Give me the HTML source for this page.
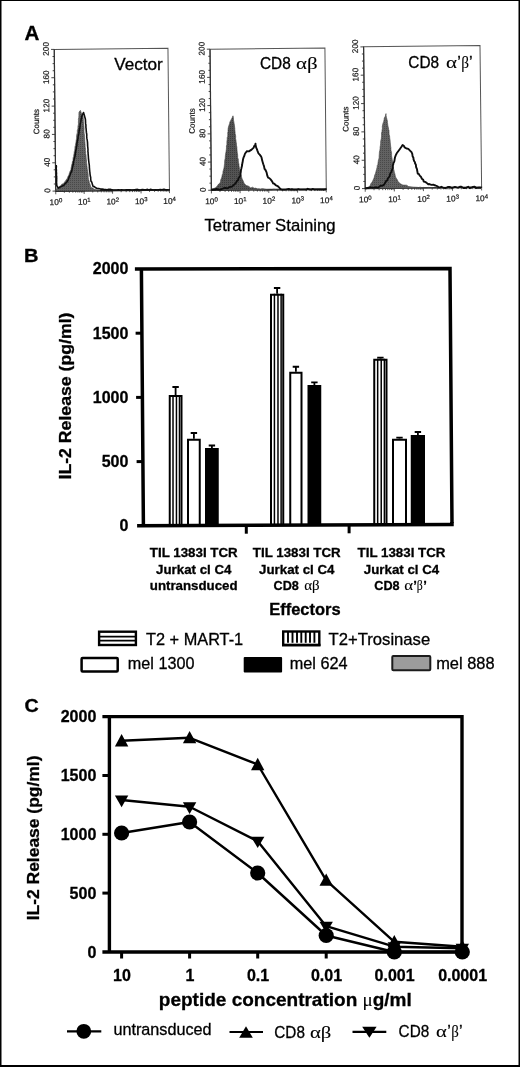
<!DOCTYPE html>
<html lang="en"><head><meta charset="utf-8"><title>Figure</title>
<style>
html,body{margin:0;padding:0;background:#fff;}
body{width:520px;height:1067px;overflow:hidden;position:relative;}
svg{position:absolute;left:0;top:0;display:block;}
text{font-family:"Liberation Sans",Arial,Helvetica,sans-serif;fill:#000;stroke:#000;stroke-width:0.3;}
.b{font-weight:bold;}
.sym{font-family:"Liberation Serif","DejaVu Serif",serif;stroke-width:0.1;}
.sm{fill:#1a1a1a;stroke:#1a1a1a;stroke-width:0.22;}
</style></head><body>
<svg width="520" height="1067" viewBox="0 0 520 1067">
<defs>
<filter id="bl" x="-5%" y="-5%" width="110%" height="110%"><feGaussianBlur stdDeviation="0.45"/></filter>
<pattern id="dots" width="2" height="2" patternUnits="userSpaceOnUse"><rect width="2" height="2" fill="#626262"/><rect width="1" height="1" fill="#4a4a4a"/></pattern>
<pattern id="dots2" width="2" height="2" patternUnits="userSpaceOnUse"><rect width="2" height="2" fill="#525252"/><rect width="1" height="1" fill="#3a3a3a"/></pattern>
</defs>
<rect x="0" y="0" width="520" height="1067" fill="#fff"/>

<text class="b" x="24.6" y="40.2" font-size="20.6">A</text>
<g filter="url(#bl)">
<g transform="rotate(-0.6 111.8 119.7)">
<path d="M55,190.5 V48.8 H168.7 V190.5" fill="none" stroke="#555" stroke-width="1"/>
<line x1="55" y1="48.8" x2="55" y2="190.5" stroke="#333" stroke-width="1.2"/>
<line x1="51.8" y1="190.5" x2="55" y2="190.5" stroke="#333" stroke-width="0.9"/>
<line x1="53.2" y1="183.4" x2="55" y2="183.4" stroke="#333" stroke-width="0.9"/>
<line x1="53.2" y1="176.3" x2="55" y2="176.3" stroke="#333" stroke-width="0.9"/>
<line x1="53.2" y1="169.2" x2="55" y2="169.2" stroke="#333" stroke-width="0.9"/>
<line x1="51.8" y1="162.2" x2="55" y2="162.2" stroke="#333" stroke-width="0.9"/>
<line x1="53.2" y1="155.1" x2="55" y2="155.1" stroke="#333" stroke-width="0.9"/>
<line x1="53.2" y1="148.0" x2="55" y2="148.0" stroke="#333" stroke-width="0.9"/>
<line x1="53.2" y1="140.9" x2="55" y2="140.9" stroke="#333" stroke-width="0.9"/>
<line x1="51.8" y1="133.8" x2="55" y2="133.8" stroke="#333" stroke-width="0.9"/>
<line x1="53.2" y1="126.7" x2="55" y2="126.7" stroke="#333" stroke-width="0.9"/>
<line x1="53.2" y1="119.7" x2="55" y2="119.7" stroke="#333" stroke-width="0.9"/>
<line x1="53.2" y1="112.6" x2="55" y2="112.6" stroke="#333" stroke-width="0.9"/>
<line x1="51.8" y1="105.5" x2="55" y2="105.5" stroke="#333" stroke-width="0.9"/>
<line x1="53.2" y1="98.4" x2="55" y2="98.4" stroke="#333" stroke-width="0.9"/>
<line x1="53.2" y1="91.3" x2="55" y2="91.3" stroke="#333" stroke-width="0.9"/>
<line x1="53.2" y1="84.2" x2="55" y2="84.2" stroke="#333" stroke-width="0.9"/>
<line x1="51.8" y1="77.1" x2="55" y2="77.1" stroke="#333" stroke-width="0.9"/>
<line x1="53.2" y1="70.1" x2="55" y2="70.1" stroke="#333" stroke-width="0.9"/>
<line x1="53.2" y1="63.0" x2="55" y2="63.0" stroke="#333" stroke-width="0.9"/>
<line x1="53.2" y1="55.9" x2="55" y2="55.9" stroke="#333" stroke-width="0.9"/>
<line x1="51.8" y1="48.8" x2="55" y2="48.8" stroke="#333" stroke-width="0.9"/>
<line x1="55.0" y1="190.5" x2="55.0" y2="193.7" stroke="#333" stroke-width="0.8"/>
<line x1="63.6" y1="190.5" x2="63.6" y2="192.3" stroke="#333" stroke-width="0.8"/>
<line x1="68.6" y1="190.5" x2="68.6" y2="192.3" stroke="#333" stroke-width="0.8"/>
<line x1="72.1" y1="190.5" x2="72.1" y2="192.3" stroke="#333" stroke-width="0.8"/>
<line x1="74.9" y1="190.5" x2="74.9" y2="192.3" stroke="#333" stroke-width="0.8"/>
<line x1="77.1" y1="190.5" x2="77.1" y2="192.3" stroke="#333" stroke-width="0.8"/>
<line x1="79.0" y1="190.5" x2="79.0" y2="192.3" stroke="#333" stroke-width="0.8"/>
<line x1="80.7" y1="190.5" x2="80.7" y2="192.3" stroke="#333" stroke-width="0.8"/>
<line x1="82.1" y1="190.5" x2="82.1" y2="192.3" stroke="#333" stroke-width="0.8"/>
<line x1="83.4" y1="190.5" x2="83.4" y2="193.7" stroke="#333" stroke-width="0.8"/>
<line x1="92.0" y1="190.5" x2="92.0" y2="192.3" stroke="#333" stroke-width="0.8"/>
<line x1="97.0" y1="190.5" x2="97.0" y2="192.3" stroke="#333" stroke-width="0.8"/>
<line x1="100.5" y1="190.5" x2="100.5" y2="192.3" stroke="#333" stroke-width="0.8"/>
<line x1="103.3" y1="190.5" x2="103.3" y2="192.3" stroke="#333" stroke-width="0.8"/>
<line x1="105.5" y1="190.5" x2="105.5" y2="192.3" stroke="#333" stroke-width="0.8"/>
<line x1="107.4" y1="190.5" x2="107.4" y2="192.3" stroke="#333" stroke-width="0.8"/>
<line x1="109.1" y1="190.5" x2="109.1" y2="192.3" stroke="#333" stroke-width="0.8"/>
<line x1="110.5" y1="190.5" x2="110.5" y2="192.3" stroke="#333" stroke-width="0.8"/>
<line x1="111.8" y1="190.5" x2="111.8" y2="193.7" stroke="#333" stroke-width="0.8"/>
<line x1="120.4" y1="190.5" x2="120.4" y2="192.3" stroke="#333" stroke-width="0.8"/>
<line x1="125.4" y1="190.5" x2="125.4" y2="192.3" stroke="#333" stroke-width="0.8"/>
<line x1="129.0" y1="190.5" x2="129.0" y2="192.3" stroke="#333" stroke-width="0.8"/>
<line x1="131.7" y1="190.5" x2="131.7" y2="192.3" stroke="#333" stroke-width="0.8"/>
<line x1="134.0" y1="190.5" x2="134.0" y2="192.3" stroke="#333" stroke-width="0.8"/>
<line x1="135.9" y1="190.5" x2="135.9" y2="192.3" stroke="#333" stroke-width="0.8"/>
<line x1="137.5" y1="190.5" x2="137.5" y2="192.3" stroke="#333" stroke-width="0.8"/>
<line x1="139.0" y1="190.5" x2="139.0" y2="192.3" stroke="#333" stroke-width="0.8"/>
<line x1="140.3" y1="190.5" x2="140.3" y2="193.7" stroke="#333" stroke-width="0.8"/>
<line x1="148.8" y1="190.5" x2="148.8" y2="192.3" stroke="#333" stroke-width="0.8"/>
<line x1="153.8" y1="190.5" x2="153.8" y2="192.3" stroke="#333" stroke-width="0.8"/>
<line x1="157.4" y1="190.5" x2="157.4" y2="192.3" stroke="#333" stroke-width="0.8"/>
<line x1="160.1" y1="190.5" x2="160.1" y2="192.3" stroke="#333" stroke-width="0.8"/>
<line x1="162.4" y1="190.5" x2="162.4" y2="192.3" stroke="#333" stroke-width="0.8"/>
<line x1="164.3" y1="190.5" x2="164.3" y2="192.3" stroke="#333" stroke-width="0.8"/>
<line x1="165.9" y1="190.5" x2="165.9" y2="192.3" stroke="#333" stroke-width="0.8"/>
<line x1="167.4" y1="190.5" x2="167.4" y2="192.3" stroke="#333" stroke-width="0.8"/>
<line x1="168.7" y1="190.5" x2="168.7" y2="193.7" stroke="#333" stroke-width="0.8"/>
<line x1="54.5" y1="190.5" x2="169.2" y2="190.5" stroke="#1a1a1a" stroke-width="1.6"/>
<text class="sm" transform="translate(49.4,189.9) rotate(-90)" text-anchor="middle" font-size="8.2">0</text>
<text class="sm" transform="translate(49.4,161.6) rotate(-90)" text-anchor="middle" font-size="8.2">40</text>
<text class="sm" transform="translate(49.4,133.2) rotate(-90)" text-anchor="middle" font-size="8.2">80</text>
<text class="sm" transform="translate(49.4,104.9) rotate(-90)" text-anchor="middle" font-size="8.2">120</text>
<text class="sm" transform="translate(49.4,76.5) rotate(-90)" text-anchor="middle" font-size="8.2">160</text>
<text class="sm" transform="translate(49.4,48.2) rotate(-90)" text-anchor="middle" font-size="8.2">200</text>
<text class="sm" transform="translate(39.0,120.9) rotate(-90)" text-anchor="middle" font-size="8">Counts</text>
<text class="sm" x="48.7" y="204.5" font-size="8.4">10<tspan dy="-2.8" font-size="6">0</tspan></text>
<text class="sm" x="77.1" y="204.5" font-size="8.4">10<tspan dy="-2.8" font-size="6">1</tspan></text>
<text class="sm" x="105.5" y="204.5" font-size="8.4">10<tspan dy="-2.8" font-size="6">2</tspan></text>
<text class="sm" x="134.0" y="204.5" font-size="8.4">10<tspan dy="-2.8" font-size="6">3</tspan></text>
<text class="sm" x="162.4" y="204.5" font-size="8.4">10<tspan dy="-2.8" font-size="6">4</tspan></text>
</g>
<polygon points="55.0,191.0 56.6,188.9 57.9,187.8 59.4,186.5 60.9,185.7 61.9,184.1 63.5,183.8 64.3,182.4 65.6,180.7 66.7,179.1 67.3,178.4 68.2,175.9 68.8,175.2 69.5,172.9 70.1,171.1 70.9,169.9 71.1,168.0 71.5,166.3 71.7,164.7 72.2,163.6 72.4,161.7 73.0,160.4 73.1,157.8 73.6,156.7 73.7,155.3 74.1,153.6 74.3,151.5 74.7,150.4 74.9,148.5 75.0,146.4 75.4,145.5 75.7,143.3 76.0,142.2 76.2,140.3 76.5,138.8 76.6,137.1 76.6,135.5 77.1,133.4 77.3,132.7 77.3,130.5 77.9,128.9 77.9,127.6 78.0,126.0 78.5,124.0 78.4,122.4 78.5,120.3 78.4,119.3 78.8,117.4 78.9,115.8 78.9,114.0 79.0,112.1 80.4,110.4 81.5,113.6 83.0,115.0 83.1,116.6 83.3,118.5 83.4,120.3 83.4,121.4 83.7,123.2 83.9,125.6 84.0,127.3 84.1,128.4 84.0,130.5 84.0,131.5 84.2,134.0 84.5,135.0 84.4,136.9 84.7,138.4 84.7,140.1 84.9,142.3 85.0,143.6 85.1,144.9 85.1,147.0 85.5,148.4 85.4,150.5 85.7,152.2 85.5,153.3 86.0,155.1 86.1,156.8 86.2,159.0 86.5,160.3 86.5,162.5 86.7,163.6 86.9,165.5 87.1,167.1 87.2,168.5 87.6,171.1 87.9,172.2 88.1,173.9 88.2,176.0 88.2,177.2 88.5,179.5 89.1,181.1 89.3,182.5 90.1,184.5 90.5,186.0 90.9,187.4 92.7,188.1 94.1,189.2 95.9,189.8 97.9,190.4 100.1,190.8" fill="url(#dots)" stroke="#444" stroke-width="0.6"/>
<polyline points="56.2,165.0 56.4,167.0 56.1,167.8 56.4,170.1 56.3,171.6 56.5,173.2 56.4,174.8 56.5,176.2 56.7,178.1 56.6,179.9 56.6,181.1 56.5,182.4 56.7,184.4 56.9,185.9 58.5,188.2 60.0,187.1 61.7,186.2 63.7,185.5 64.7,184.1 66.3,182.7 67.6,181.0 68.3,179.5 69.0,177.5 69.4,176.5 70.2,174.7 70.8,172.8 71.7,171.3 72.0,169.7 72.4,167.9 72.6,166.7 73.2,164.8 73.4,163.3 73.7,161.2 74.0,160.0 74.4,158.5 74.8,156.9 75.2,155.3 75.4,153.3 75.7,151.8 75.9,149.9 76.4,148.5 76.4,147.0 76.9,145.5 76.9,144.0 77.2,142.2 77.5,140.5 78.0,138.5 78.1,136.8 78.3,135.9 78.8,133.7 79.0,132.2 79.2,130.3 79.6,128.8 79.9,127.1 80.1,125.4 80.2,123.8 80.5,122.9 81.0,120.8 81.1,119.4 81.5,118.4 81.9,115.9 82.4,114.9 83.5,112.5 84.1,114.4 84.8,117.0 85.4,119.2 85.5,120.8 85.5,122.1 85.7,123.9 85.9,125.0 85.9,127.4 86.1,128.7 86.2,130.3 86.4,132.4 86.6,133.7 86.8,134.9 86.7,136.8 86.9,138.4 87.2,140.2 87.5,142.4 87.6,144.5 87.6,145.6 87.8,147.4 88.0,149.5 87.9,151.3 88.1,152.7 88.1,153.9 88.3,155.9 88.4,157.8 88.5,158.8 88.7,160.6 88.9,162.5 89.1,163.9 89.3,165.4 89.4,167.7 89.5,168.9 89.6,170.7 89.9,172.3 90.0,173.8 90.3,176.0 90.7,177.4 90.7,179.2 91.0,181.2 91.7,182.1 92.3,184.0 93.1,186.4 94.3,186.6 95.7,187.8 97.1,188.5 98.7,188.6 100.6,189.1 102.2,189.0 103.8,189.3 105.4,189.5 107.0,189.9 108.5,189.3 110.4,189.3 112.1,189.9 113.3,190.0 115.2,190.0 116.8,190.0 118.4,189.7 119.9,190.0 121.6,189.9 123.3,190.0 125.0,190.0 126.4,189.7 128.0,189.8 129.8,189.8 131.3,190.0 132.8,190.0 134.7,189.7 136.1,189.5 137.6,189.4 139.6,190.0 140.9,189.9 142.5,189.6 144.3,189.9 145.9,189.7 147.5,189.4 149.2,190.0 150.7,189.3 152.2,189.9 153.9,190.0 155.5,189.9 157.3,190.0 158.7,189.7 160.2,189.6 162.2,189.7 163.7,189.3 165.2,189.6 167.0,189.8 168.5,189.8" fill="none" stroke="#111" stroke-width="1.6" stroke-linejoin="round"/>
</g>
<text x="114.2" y="70" font-size="16.6" textLength="48.6" lengthAdjust="spacingAndGlyphs">Vector</text>
<g filter="url(#bl)">
<g transform="rotate(-0.55 268.1 119.1)">
<path d="M210.7,189.7 V48.6 H325.6 V189.7" fill="none" stroke="#555" stroke-width="1"/>
<line x1="210.7" y1="48.6" x2="210.7" y2="189.7" stroke="#333" stroke-width="1.2"/>
<line x1="207.5" y1="189.7" x2="210.7" y2="189.7" stroke="#333" stroke-width="0.9"/>
<line x1="208.89999999999998" y1="182.6" x2="210.7" y2="182.6" stroke="#333" stroke-width="0.9"/>
<line x1="208.89999999999998" y1="175.6" x2="210.7" y2="175.6" stroke="#333" stroke-width="0.9"/>
<line x1="208.89999999999998" y1="168.5" x2="210.7" y2="168.5" stroke="#333" stroke-width="0.9"/>
<line x1="207.5" y1="161.5" x2="210.7" y2="161.5" stroke="#333" stroke-width="0.9"/>
<line x1="208.89999999999998" y1="154.4" x2="210.7" y2="154.4" stroke="#333" stroke-width="0.9"/>
<line x1="208.89999999999998" y1="147.4" x2="210.7" y2="147.4" stroke="#333" stroke-width="0.9"/>
<line x1="208.89999999999998" y1="140.3" x2="210.7" y2="140.3" stroke="#333" stroke-width="0.9"/>
<line x1="207.5" y1="133.3" x2="210.7" y2="133.3" stroke="#333" stroke-width="0.9"/>
<line x1="208.89999999999998" y1="126.2" x2="210.7" y2="126.2" stroke="#333" stroke-width="0.9"/>
<line x1="208.89999999999998" y1="119.1" x2="210.7" y2="119.1" stroke="#333" stroke-width="0.9"/>
<line x1="208.89999999999998" y1="112.1" x2="210.7" y2="112.1" stroke="#333" stroke-width="0.9"/>
<line x1="207.5" y1="105.0" x2="210.7" y2="105.0" stroke="#333" stroke-width="0.9"/>
<line x1="208.89999999999998" y1="98.0" x2="210.7" y2="98.0" stroke="#333" stroke-width="0.9"/>
<line x1="208.89999999999998" y1="90.9" x2="210.7" y2="90.9" stroke="#333" stroke-width="0.9"/>
<line x1="208.89999999999998" y1="83.9" x2="210.7" y2="83.9" stroke="#333" stroke-width="0.9"/>
<line x1="207.5" y1="76.8" x2="210.7" y2="76.8" stroke="#333" stroke-width="0.9"/>
<line x1="208.89999999999998" y1="69.8" x2="210.7" y2="69.8" stroke="#333" stroke-width="0.9"/>
<line x1="208.89999999999998" y1="62.7" x2="210.7" y2="62.7" stroke="#333" stroke-width="0.9"/>
<line x1="208.89999999999998" y1="55.7" x2="210.7" y2="55.7" stroke="#333" stroke-width="0.9"/>
<line x1="207.5" y1="48.6" x2="210.7" y2="48.6" stroke="#333" stroke-width="0.9"/>
<line x1="210.7" y1="189.7" x2="210.7" y2="192.89999999999998" stroke="#333" stroke-width="0.8"/>
<line x1="219.3" y1="189.7" x2="219.3" y2="191.5" stroke="#333" stroke-width="0.8"/>
<line x1="224.4" y1="189.7" x2="224.4" y2="191.5" stroke="#333" stroke-width="0.8"/>
<line x1="228.0" y1="189.7" x2="228.0" y2="191.5" stroke="#333" stroke-width="0.8"/>
<line x1="230.8" y1="189.7" x2="230.8" y2="191.5" stroke="#333" stroke-width="0.8"/>
<line x1="233.1" y1="189.7" x2="233.1" y2="191.5" stroke="#333" stroke-width="0.8"/>
<line x1="235.0" y1="189.7" x2="235.0" y2="191.5" stroke="#333" stroke-width="0.8"/>
<line x1="236.6" y1="189.7" x2="236.6" y2="191.5" stroke="#333" stroke-width="0.8"/>
<line x1="238.1" y1="189.7" x2="238.1" y2="191.5" stroke="#333" stroke-width="0.8"/>
<line x1="239.4" y1="189.7" x2="239.4" y2="192.89999999999998" stroke="#333" stroke-width="0.8"/>
<line x1="248.1" y1="189.7" x2="248.1" y2="191.5" stroke="#333" stroke-width="0.8"/>
<line x1="253.1" y1="189.7" x2="253.1" y2="191.5" stroke="#333" stroke-width="0.8"/>
<line x1="256.7" y1="189.7" x2="256.7" y2="191.5" stroke="#333" stroke-width="0.8"/>
<line x1="259.5" y1="189.7" x2="259.5" y2="191.5" stroke="#333" stroke-width="0.8"/>
<line x1="261.8" y1="189.7" x2="261.8" y2="191.5" stroke="#333" stroke-width="0.8"/>
<line x1="263.7" y1="189.7" x2="263.7" y2="191.5" stroke="#333" stroke-width="0.8"/>
<line x1="265.4" y1="189.7" x2="265.4" y2="191.5" stroke="#333" stroke-width="0.8"/>
<line x1="266.8" y1="189.7" x2="266.8" y2="191.5" stroke="#333" stroke-width="0.8"/>
<line x1="268.1" y1="189.7" x2="268.1" y2="192.89999999999998" stroke="#333" stroke-width="0.8"/>
<line x1="276.8" y1="189.7" x2="276.8" y2="191.5" stroke="#333" stroke-width="0.8"/>
<line x1="281.9" y1="189.7" x2="281.9" y2="191.5" stroke="#333" stroke-width="0.8"/>
<line x1="285.4" y1="189.7" x2="285.4" y2="191.5" stroke="#333" stroke-width="0.8"/>
<line x1="288.2" y1="189.7" x2="288.2" y2="191.5" stroke="#333" stroke-width="0.8"/>
<line x1="290.5" y1="189.7" x2="290.5" y2="191.5" stroke="#333" stroke-width="0.8"/>
<line x1="292.4" y1="189.7" x2="292.4" y2="191.5" stroke="#333" stroke-width="0.8"/>
<line x1="294.1" y1="189.7" x2="294.1" y2="191.5" stroke="#333" stroke-width="0.8"/>
<line x1="295.6" y1="189.7" x2="295.6" y2="191.5" stroke="#333" stroke-width="0.8"/>
<line x1="296.9" y1="189.7" x2="296.9" y2="192.89999999999998" stroke="#333" stroke-width="0.8"/>
<line x1="305.5" y1="189.7" x2="305.5" y2="191.5" stroke="#333" stroke-width="0.8"/>
<line x1="310.6" y1="189.7" x2="310.6" y2="191.5" stroke="#333" stroke-width="0.8"/>
<line x1="314.2" y1="189.7" x2="314.2" y2="191.5" stroke="#333" stroke-width="0.8"/>
<line x1="317.0" y1="189.7" x2="317.0" y2="191.5" stroke="#333" stroke-width="0.8"/>
<line x1="319.2" y1="189.7" x2="319.2" y2="191.5" stroke="#333" stroke-width="0.8"/>
<line x1="321.2" y1="189.7" x2="321.2" y2="191.5" stroke="#333" stroke-width="0.8"/>
<line x1="322.8" y1="189.7" x2="322.8" y2="191.5" stroke="#333" stroke-width="0.8"/>
<line x1="324.3" y1="189.7" x2="324.3" y2="191.5" stroke="#333" stroke-width="0.8"/>
<line x1="325.6" y1="189.7" x2="325.6" y2="192.89999999999998" stroke="#333" stroke-width="0.8"/>
<line x1="210.2" y1="189.7" x2="326.1" y2="189.7" stroke="#1a1a1a" stroke-width="1.6"/>
<text class="sm" transform="translate(205.1,189.1) rotate(-90)" text-anchor="middle" font-size="8.2">0</text>
<text class="sm" transform="translate(205.1,160.9) rotate(-90)" text-anchor="middle" font-size="8.2">40</text>
<text class="sm" transform="translate(205.1,132.7) rotate(-90)" text-anchor="middle" font-size="8.2">80</text>
<text class="sm" transform="translate(205.1,104.4) rotate(-90)" text-anchor="middle" font-size="8.2">120</text>
<text class="sm" transform="translate(205.1,76.2) rotate(-90)" text-anchor="middle" font-size="8.2">160</text>
<text class="sm" transform="translate(205.1,48.0) rotate(-90)" text-anchor="middle" font-size="8.2">200</text>
<text class="sm" transform="translate(194.7,120.3) rotate(-90)" text-anchor="middle" font-size="8">Counts</text>
<text class="sm" x="204.4" y="203.7" font-size="8.4">10<tspan dy="-2.8" font-size="6">0</tspan></text>
<text class="sm" x="233.1" y="203.7" font-size="8.4">10<tspan dy="-2.8" font-size="6">1</tspan></text>
<text class="sm" x="261.8" y="203.7" font-size="8.4">10<tspan dy="-2.8" font-size="6">2</tspan></text>
<text class="sm" x="290.6" y="203.7" font-size="8.4">10<tspan dy="-2.8" font-size="6">3</tspan></text>
<text class="sm" x="319.3" y="203.7" font-size="8.4">10<tspan dy="-2.8" font-size="6">4</tspan></text>
</g>
<polygon points="211.3,190.0 213.0,188.9 214.6,188.2 216.0,187.6 217.6,185.4 218.6,184.1 220.0,183.2 220.5,181.4 220.8,179.6 221.6,178.0 222.0,176.3 222.2,174.9 222.9,173.4 223.0,171.2 223.4,170.2 223.9,168.3 224.2,166.7 224.4,164.7 224.7,163.1 224.6,161.9 224.9,159.4 225.2,158.5 225.3,156.4 225.5,154.6 225.8,152.7 226.1,151.2 226.3,149.6 226.5,148.0 226.4,146.1 226.9,144.6 226.9,143.0 226.9,141.2 227.2,139.7 227.2,137.6 227.7,136.6 227.8,134.2 227.7,132.9 228.1,131.2 228.0,130.2 228.2,128.3 228.5,126.8 228.9,125.4 229.6,123.6 229.9,121.9 230.6,120.7 231.5,118.9 232.1,117.9 233.0,115.8 233.4,117.9 233.5,120.2 233.8,121.5 234.1,123.4 234.4,125.1 234.6,127.1 234.8,128.3 234.8,129.8 235.1,132.2 235.1,133.5 235.5,135.0 235.7,136.3 235.6,138.6 236.0,140.4 236.1,142.1 236.5,143.9 236.4,144.9 236.9,147.3 236.9,148.6 237.1,150.7 237.2,152.2 237.5,153.9 237.7,155.6 237.7,157.7 238.3,159.2 238.3,160.6 238.5,162.8 238.9,163.9 239.0,166.0 239.3,167.3 239.6,169.5 239.9,171.2 240.5,172.2 240.8,174.4 241.1,175.3 241.6,177.2 242.2,179.1 242.7,179.9 243.6,182.0 244.2,183.5 244.9,184.2 246.4,185.6 247.9,185.9 249.3,186.7 250.7,187.9 252.6,187.2 254.2,188.3 255.8,188.1 257.1,188.8 258.9,188.8 260.4,189.0 262.0,188.7 263.5,188.8 265.3,189.2 266.8,189.6 268.8,189.8 270.5,189.9 272.0,190.0 273.7,189.2 275.2,189.4 276.9,189.9 278.7,189.7 280.1,190.0 281.9,189.7 283.5,189.9 284.9,189.9" fill="url(#dots2)" stroke="#444" stroke-width="0.6"/>
<polyline points="211.3,190.0 212.8,189.4 214.7,189.5 216.6,188.8 218.6,189.6 220.1,189.6 221.9,189.0 223.5,188.3 225.6,187.9 227.1,188.4 228.2,187.9 230.0,186.7 231.7,186.9 232.8,185.8 234.8,184.1 236.1,182.7 236.8,181.1 238.1,180.3 238.5,178.2 239.5,177.2 240.4,175.6 240.5,173.4 240.8,172.0 241.0,169.7 241.2,169.1 241.9,166.3 242.1,165.0 242.3,163.4 242.6,162.3 243.0,159.5 243.4,157.9 244.3,155.9 244.8,154.2 245.1,153.5 246.9,151.2 248.9,151.4 251.6,149.6 253.7,147.6 254.3,145.8 255.0,145.5 255.5,143.7 255.5,144.4 256.2,147.8 256.8,148.9 257.4,150.6 257.8,151.6 258.4,153.3 259.7,154.6 261.0,156.4 261.6,157.7 262.2,160.6 262.5,161.5 263.3,164.3 263.5,164.7 264.0,166.1 264.5,168.8 265.2,169.5 266.2,171.5 266.7,172.9 267.3,175.7 268.1,177.7 269.3,178.1 270.6,179.4 272.1,181.3 273.2,183.5 274.3,183.6 275.6,185.2 277.6,186.1 278.7,187.0 280.6,189.2 282.1,189.6 283.9,189.6 285.6,189.6 286.7,189.4 288.8,189.0 290.5,189.6 291.9,189.3 293.5,189.6 295.0,189.6 296.8,189.6 298.5,189.2 299.6,189.6 301.8,189.6 302.9,189.6 304.6,189.6 306.5,189.6 307.8,188.8 309.7,189.6 311.6,189.6 312.6,189.0 314.3,189.6 316.0,189.6 318.0,189.6 319.5,189.6 320.9,189.6 322.6,189.6 324.5,189.6 326.0,189.3" fill="none" stroke="#111" stroke-width="1.9" stroke-linejoin="round"/>
</g>
<text x="260" y="68.9" font-size="16.3" textLength="30.8" lengthAdjust="spacingAndGlyphs">CD8</text>
<text class="sym" x="296" y="68.9" font-size="17.6" textLength="21.6" lengthAdjust="spacingAndGlyphs">αβ</text>
<g filter="url(#bl)">
<g transform="rotate(-0.65 422.6 117.1)">
<path d="M364.4,187.9 V46.2 H480.8 V187.9" fill="none" stroke="#555" stroke-width="1"/>
<line x1="364.4" y1="46.2" x2="364.4" y2="187.9" stroke="#333" stroke-width="1.2"/>
<line x1="361.2" y1="187.9" x2="364.4" y2="187.9" stroke="#333" stroke-width="0.9"/>
<line x1="362.59999999999997" y1="180.8" x2="364.4" y2="180.8" stroke="#333" stroke-width="0.9"/>
<line x1="362.59999999999997" y1="173.7" x2="364.4" y2="173.7" stroke="#333" stroke-width="0.9"/>
<line x1="362.59999999999997" y1="166.6" x2="364.4" y2="166.6" stroke="#333" stroke-width="0.9"/>
<line x1="361.2" y1="159.6" x2="364.4" y2="159.6" stroke="#333" stroke-width="0.9"/>
<line x1="362.59999999999997" y1="152.5" x2="364.4" y2="152.5" stroke="#333" stroke-width="0.9"/>
<line x1="362.59999999999997" y1="145.4" x2="364.4" y2="145.4" stroke="#333" stroke-width="0.9"/>
<line x1="362.59999999999997" y1="138.3" x2="364.4" y2="138.3" stroke="#333" stroke-width="0.9"/>
<line x1="361.2" y1="131.2" x2="364.4" y2="131.2" stroke="#333" stroke-width="0.9"/>
<line x1="362.59999999999997" y1="124.1" x2="364.4" y2="124.1" stroke="#333" stroke-width="0.9"/>
<line x1="362.59999999999997" y1="117.1" x2="364.4" y2="117.1" stroke="#333" stroke-width="0.9"/>
<line x1="362.59999999999997" y1="110.0" x2="364.4" y2="110.0" stroke="#333" stroke-width="0.9"/>
<line x1="361.2" y1="102.9" x2="364.4" y2="102.9" stroke="#333" stroke-width="0.9"/>
<line x1="362.59999999999997" y1="95.8" x2="364.4" y2="95.8" stroke="#333" stroke-width="0.9"/>
<line x1="362.59999999999997" y1="88.7" x2="364.4" y2="88.7" stroke="#333" stroke-width="0.9"/>
<line x1="362.59999999999997" y1="81.6" x2="364.4" y2="81.6" stroke="#333" stroke-width="0.9"/>
<line x1="361.2" y1="74.5" x2="364.4" y2="74.5" stroke="#333" stroke-width="0.9"/>
<line x1="362.59999999999997" y1="67.5" x2="364.4" y2="67.5" stroke="#333" stroke-width="0.9"/>
<line x1="362.59999999999997" y1="60.4" x2="364.4" y2="60.4" stroke="#333" stroke-width="0.9"/>
<line x1="362.59999999999997" y1="53.3" x2="364.4" y2="53.3" stroke="#333" stroke-width="0.9"/>
<line x1="361.2" y1="46.2" x2="364.4" y2="46.2" stroke="#333" stroke-width="0.9"/>
<line x1="364.4" y1="187.9" x2="364.4" y2="191.1" stroke="#333" stroke-width="0.8"/>
<line x1="373.2" y1="187.9" x2="373.2" y2="189.70000000000002" stroke="#333" stroke-width="0.8"/>
<line x1="378.3" y1="187.9" x2="378.3" y2="189.70000000000002" stroke="#333" stroke-width="0.8"/>
<line x1="381.9" y1="187.9" x2="381.9" y2="189.70000000000002" stroke="#333" stroke-width="0.8"/>
<line x1="384.7" y1="187.9" x2="384.7" y2="189.70000000000002" stroke="#333" stroke-width="0.8"/>
<line x1="387.0" y1="187.9" x2="387.0" y2="189.70000000000002" stroke="#333" stroke-width="0.8"/>
<line x1="389.0" y1="187.9" x2="389.0" y2="189.70000000000002" stroke="#333" stroke-width="0.8"/>
<line x1="390.7" y1="187.9" x2="390.7" y2="189.70000000000002" stroke="#333" stroke-width="0.8"/>
<line x1="392.2" y1="187.9" x2="392.2" y2="189.70000000000002" stroke="#333" stroke-width="0.8"/>
<line x1="393.5" y1="187.9" x2="393.5" y2="191.1" stroke="#333" stroke-width="0.8"/>
<line x1="402.3" y1="187.9" x2="402.3" y2="189.70000000000002" stroke="#333" stroke-width="0.8"/>
<line x1="407.4" y1="187.9" x2="407.4" y2="189.70000000000002" stroke="#333" stroke-width="0.8"/>
<line x1="411.0" y1="187.9" x2="411.0" y2="189.70000000000002" stroke="#333" stroke-width="0.8"/>
<line x1="413.8" y1="187.9" x2="413.8" y2="189.70000000000002" stroke="#333" stroke-width="0.8"/>
<line x1="416.1" y1="187.9" x2="416.1" y2="189.70000000000002" stroke="#333" stroke-width="0.8"/>
<line x1="418.1" y1="187.9" x2="418.1" y2="189.70000000000002" stroke="#333" stroke-width="0.8"/>
<line x1="419.8" y1="187.9" x2="419.8" y2="189.70000000000002" stroke="#333" stroke-width="0.8"/>
<line x1="421.3" y1="187.9" x2="421.3" y2="189.70000000000002" stroke="#333" stroke-width="0.8"/>
<line x1="422.6" y1="187.9" x2="422.6" y2="191.1" stroke="#333" stroke-width="0.8"/>
<line x1="431.4" y1="187.9" x2="431.4" y2="189.70000000000002" stroke="#333" stroke-width="0.8"/>
<line x1="436.5" y1="187.9" x2="436.5" y2="189.70000000000002" stroke="#333" stroke-width="0.8"/>
<line x1="440.1" y1="187.9" x2="440.1" y2="189.70000000000002" stroke="#333" stroke-width="0.8"/>
<line x1="442.9" y1="187.9" x2="442.9" y2="189.70000000000002" stroke="#333" stroke-width="0.8"/>
<line x1="445.2" y1="187.9" x2="445.2" y2="189.70000000000002" stroke="#333" stroke-width="0.8"/>
<line x1="447.2" y1="187.9" x2="447.2" y2="189.70000000000002" stroke="#333" stroke-width="0.8"/>
<line x1="448.9" y1="187.9" x2="448.9" y2="189.70000000000002" stroke="#333" stroke-width="0.8"/>
<line x1="450.4" y1="187.9" x2="450.4" y2="189.70000000000002" stroke="#333" stroke-width="0.8"/>
<line x1="451.7" y1="187.9" x2="451.7" y2="191.1" stroke="#333" stroke-width="0.8"/>
<line x1="460.5" y1="187.9" x2="460.5" y2="189.70000000000002" stroke="#333" stroke-width="0.8"/>
<line x1="465.6" y1="187.9" x2="465.6" y2="189.70000000000002" stroke="#333" stroke-width="0.8"/>
<line x1="469.2" y1="187.9" x2="469.2" y2="189.70000000000002" stroke="#333" stroke-width="0.8"/>
<line x1="472.0" y1="187.9" x2="472.0" y2="189.70000000000002" stroke="#333" stroke-width="0.8"/>
<line x1="474.3" y1="187.9" x2="474.3" y2="189.70000000000002" stroke="#333" stroke-width="0.8"/>
<line x1="476.3" y1="187.9" x2="476.3" y2="189.70000000000002" stroke="#333" stroke-width="0.8"/>
<line x1="478.0" y1="187.9" x2="478.0" y2="189.70000000000002" stroke="#333" stroke-width="0.8"/>
<line x1="479.5" y1="187.9" x2="479.5" y2="189.70000000000002" stroke="#333" stroke-width="0.8"/>
<line x1="480.8" y1="187.9" x2="480.8" y2="191.1" stroke="#333" stroke-width="0.8"/>
<line x1="363.9" y1="187.9" x2="481.3" y2="187.9" stroke="#1a1a1a" stroke-width="1.6"/>
<text class="sm" transform="translate(358.8,187.3) rotate(-90)" text-anchor="middle" font-size="8.2">0</text>
<text class="sm" transform="translate(358.8,159.0) rotate(-90)" text-anchor="middle" font-size="8.2">40</text>
<text class="sm" transform="translate(358.8,130.6) rotate(-90)" text-anchor="middle" font-size="8.2">80</text>
<text class="sm" transform="translate(358.8,102.3) rotate(-90)" text-anchor="middle" font-size="8.2">120</text>
<text class="sm" transform="translate(358.8,73.9) rotate(-90)" text-anchor="middle" font-size="8.2">160</text>
<text class="sm" transform="translate(358.8,45.6) rotate(-90)" text-anchor="middle" font-size="8.2">200</text>
<text class="sm" transform="translate(348.4,118.3) rotate(-90)" text-anchor="middle" font-size="8">Counts</text>
<text class="sm" x="358.1" y="201.9" font-size="8.4">10<tspan dy="-2.8" font-size="6">0</tspan></text>
<text class="sm" x="387.2" y="201.9" font-size="8.4">10<tspan dy="-2.8" font-size="6">1</tspan></text>
<text class="sm" x="416.3" y="201.9" font-size="8.4">10<tspan dy="-2.8" font-size="6">2</tspan></text>
<text class="sm" x="445.4" y="201.9" font-size="8.4">10<tspan dy="-2.8" font-size="6">3</tspan></text>
<text class="sm" x="474.5" y="201.9" font-size="8.4">10<tspan dy="-2.8" font-size="6">4</tspan></text>
</g>
<polygon points="365.2,188.5 366.9,187.7 368.6,186.9 370.2,185.8 370.9,183.4 372.0,182.6 372.7,180.9 373.7,178.8 374.3,177.2 374.7,175.1 375.4,173.8 375.6,172.7 376.1,171.1 376.6,169.3 377.2,167.0 377.2,165.6 377.8,164.7 378.1,162.3 378.3,160.9 378.8,158.9 379.1,157.7 379.1,156.2 379.3,153.9 379.4,152.0 379.8,150.4 380.1,148.4 380.1,147.0 380.4,145.7 380.6,143.5 380.6,142.2 380.8,140.7 381.3,138.7 381.5,136.3 381.6,135.0 381.5,132.9 382.0,131.4 382.1,129.8 382.4,128.8 382.3,126.5 382.6,125.0 383.1,122.9 383.6,121.9 384.1,119.5 384.3,117.9 385.3,116.2 386.0,113.6 386.1,115.7 386.4,117.3 386.8,118.9 387.5,121.4 387.4,122.5 387.8,124.9 387.9,125.9 388.4,127.7 388.5,129.2 389.0,130.4 389.0,132.0 389.1,134.4 389.6,136.0 389.7,137.5 389.8,138.6 390.1,140.3 390.2,142.1 390.5,144.5 390.6,146.2 390.9,147.4 390.9,149.0 391.0,150.6 391.5,152.3 391.6,154.6 391.6,155.8 391.8,157.0 392.2,159.4 392.4,160.6 392.6,162.6 392.8,164.2 393.0,165.5 393.1,167.1 393.6,169.2 394.0,170.3 394.3,172.2 394.7,173.2 395.1,175.1 395.5,176.9 396.4,178.5 397.2,179.6 398.1,181.5 398.9,182.6 400.8,184.0 402.9,185.1 404.6,185.1 406.7,185.2 408.5,186.5 410.5,186.7 411.9,186.9 413.7,187.1 415.3,187.2 417.1,187.3 418.7,187.5 420.1,187.1 422.0,187.6 423.6,187.4 425.0,187.9 426.7,187.8 428.3,187.4 430.0,187.7 431.6,187.6 433.4,187.9 435.1,188.0 436.9,187.7 438.3,187.5 440.0,187.8" fill="url(#dots)" stroke="#444" stroke-width="0.6"/>
<polyline points="365.2,188.5 367.2,188.0 368.6,188.0 370.7,187.3 372.5,187.9 374.3,187.6 376.1,187.3 377.6,187.9 379.3,186.8 380.6,185.6 381.9,185.8 383.6,185.1 384.6,183.7 386.1,181.0 387.1,180.7 388.1,178.2 388.8,177.4 389.6,176.3 390.3,173.5 391.1,172.2 391.5,171.5 392.2,169.4 392.8,168.1 392.8,165.2 393.2,164.6 393.5,162.9 394.2,161.8 394.7,159.0 395.0,157.4 395.6,155.7 396.7,153.3 397.3,152.5 398.4,151.0 400.1,148.7 401.1,147.3 402.6,145.0 404.0,146.1 404.6,147.4 406.5,148.5 408.3,148.9 410.2,150.8 411.5,152.2 412.2,153.7 412.6,156.2 413.4,157.7 413.5,159.1 414.2,161.2 415.0,162.3 415.0,163.3 415.9,164.8 416.1,167.1 417.0,169.2 417.2,170.8 417.8,173.7 418.8,174.0 419.7,175.6 420.9,176.7 421.8,178.7 423.2,179.8 423.7,181.5 425.0,181.9 426.4,182.6 428.0,184.2 429.3,184.0 431.3,184.9 433.7,184.8 435.5,185.5 437.6,186.4 438.9,187.7 441.4,186.8 443.0,187.6 445.2,188.0 446.6,187.6 448.2,186.9 450.0,187.0 451.3,187.7 452.9,187.7 454.9,186.9 456.7,187.4 458.2,187.7 459.9,186.8 461.4,186.8 463.3,188.0 464.6,188.0 466.5,187.7 468.2,186.8 469.5,188.0 471.1,187.8 473.0,186.9 474.6,186.6 476.0,188.0 477.5,187.9 479.2,187.8 481.0,187.9" fill="none" stroke="#111" stroke-width="1.9" stroke-linejoin="round"/>
</g>
<text x="408.3" y="67.5" font-size="16.3" textLength="30.8" lengthAdjust="spacingAndGlyphs">CD8</text>
<text class="sym" x="446" y="67.5" font-size="17.6" textLength="11" lengthAdjust="spacingAndGlyphs">α</text>
<text x="457.3" y="67.5" font-size="16.3">’</text>
<text class="sym" x="461.2" y="67.5" font-size="17.6" textLength="7.8" lengthAdjust="spacingAndGlyphs">β</text>
<text x="469" y="67.5" font-size="16.3">’</text>
<text x="204.5" y="231" font-size="16.4" textLength="131" lengthAdjust="spacingAndGlyphs">Tetramer Staining</text>
<text class="b" x="24" y="262" font-size="18.5" textLength="14.5" lengthAdjust="spacingAndGlyphs">B</text>
<path d="M175.6,395 V387 M172.4,387 H178.8" stroke="#000" stroke-width="1.8" fill="none"/>
<path d="M169.75,525.2 V396.00 H181.50 V525.2" fill="#fff" stroke="#000" stroke-width="2"/>
<line x1="173.01" y1="395" x2="173.01" y2="525.2" stroke="#000" stroke-width="1.5"/>
<line x1="176.45" y1="395" x2="176.45" y2="525.2" stroke="#000" stroke-width="1.5"/>
<line x1="179.47" y1="395" x2="179.47" y2="525.2" stroke="#000" stroke-width="1.5"/>
<path d="M193.9,438.75 V433 M190.7,433 H197.1" stroke="#000" stroke-width="1.8" fill="none"/>
<path d="M188.00,525.2 V439.75 H199.75 V525.2" fill="#fff" stroke="#000" stroke-width="2"/>
<path d="M211.9,448 V445.5 M208.7,445.5 H215.1" stroke="#000" stroke-width="1.8" fill="none"/>
<rect x="205" y="448" width="13.75" height="77.20" fill="#000"/>
<path d="M277.1,293.75 V288 M273.9,288 H280.3" stroke="#000" stroke-width="1.8" fill="none"/>
<path d="M271.00,525.2 V294.75 H283.25 V525.2" fill="#fff" stroke="#000" stroke-width="2"/>
<line x1="274.42" y1="293.75" x2="274.42" y2="525.2" stroke="#000" stroke-width="1.5"/>
<line x1="277.98" y1="293.75" x2="277.98" y2="525.2" stroke="#000" stroke-width="1.5"/>
<line x1="281.12" y1="293.75" x2="281.12" y2="525.2" stroke="#000" stroke-width="1.5"/>
<path d="M295.9,371.75 V366.75 M292.7,366.75 H299.1" stroke="#000" stroke-width="1.8" fill="none"/>
<path d="M290.25,525.2 V372.75 H301.50 V525.2" fill="#fff" stroke="#000" stroke-width="2"/>
<path d="M314.4,385 V382.3 M311.2,382.3 H317.6" stroke="#000" stroke-width="1.8" fill="none"/>
<rect x="307.5" y="385" width="13.75" height="140.20" fill="#000"/>
<path d="M380.4,358.75 V357.6 M377.2,357.6 H383.6" stroke="#000" stroke-width="1.8" fill="none"/>
<path d="M374.25,525.2 V359.75 H386.50 V525.2" fill="#fff" stroke="#000" stroke-width="2"/>
<line x1="377.67" y1="358.75" x2="377.67" y2="525.2" stroke="#000" stroke-width="1.5"/>
<line x1="381.23" y1="358.75" x2="381.23" y2="525.2" stroke="#000" stroke-width="1.5"/>
<line x1="384.37" y1="358.75" x2="384.37" y2="525.2" stroke="#000" stroke-width="1.5"/>
<path d="M399.5,438.75 V437.6 M396.3,437.6 H402.7" stroke="#000" stroke-width="1.8" fill="none"/>
<path d="M393.00,525.2 V439.75 H406.00 V525.2" fill="#fff" stroke="#000" stroke-width="2"/>
<path d="M417.9,435 V432 M414.7,432 H421.1" stroke="#000" stroke-width="1.8" fill="none"/>
<rect x="410.75" y="435" width="14.25" height="90.20" fill="#000"/>
<g stroke="#000" stroke-width="3.5" fill="none" stroke-linecap="butt">
<path d="M134.9,269.0 L451.75,268.4 M450.0,268.4 L452.0,524.6 M141.4,269.0 L143.4,525.8 M137.1,525.8 L453.75,524.6"/>
<line x1="136.6" y1="461.6" x2="142.9" y2="461.6" stroke-width="3"/>
<line x1="136.1" y1="397.4" x2="142.4" y2="397.4" stroke-width="3"/>
<line x1="135.6" y1="333.2" x2="141.9" y2="333.2" stroke-width="3"/>
<line x1="246.3" y1="525.4" x2="246.3" y2="533.7" stroke-width="3"/>
<line x1="349.1" y1="525.0" x2="349.1" y2="533.3" stroke-width="3"/>
</g>
<text class="b" x="128.4" y="531.1" font-size="16" text-anchor="end">0</text>
<text class="b" x="128.4" y="466.9" font-size="16" text-anchor="end">500</text>
<text class="b" x="128.4" y="402.7" font-size="16" text-anchor="end">1000</text>
<text class="b" x="128.4" y="338.5" font-size="16" text-anchor="end">1500</text>
<text class="b" x="128.4" y="274.3" font-size="16" text-anchor="end">2000</text>
<text class="b" transform="translate(70.8,479.5) rotate(-90)" font-size="17.2" textLength="167" lengthAdjust="spacingAndGlyphs">IL-2 Release (pg/ml)</text>
<text class="b" x="149.85" y="557" font-size="13" textLength="87.8" lengthAdjust="spacingAndGlyphs">TIL 1383I TCR</text>
<text class="b" x="156.05" y="573.8" font-size="13" textLength="75.4" lengthAdjust="spacingAndGlyphs">Jurkat cl C4</text>
<text class="b" x="252.85" y="557" font-size="13" textLength="87.8" lengthAdjust="spacingAndGlyphs">TIL 1383I TCR</text>
<text class="b" x="259.05" y="573.8" font-size="13" textLength="75.4" lengthAdjust="spacingAndGlyphs">Jurkat cl C4</text>
<text class="b" x="357.6" y="557" font-size="13" textLength="87.8" lengthAdjust="spacingAndGlyphs">TIL 1383I TCR</text>
<text class="b" x="363.8" y="573.8" font-size="13" textLength="75.4" lengthAdjust="spacingAndGlyphs">Jurkat cl C4</text>
<text class="b" x="149.8" y="590" font-size="13" textLength="87.8" lengthAdjust="spacingAndGlyphs">untransduced</text>
<text class="b" x="273.6" y="589.6" font-size="13" textLength="25.3" lengthAdjust="spacingAndGlyphs">CD8</text>
<text class="sym" x="304.3" y="589.6" font-size="14.6" textLength="15.4" lengthAdjust="spacingAndGlyphs" stroke-width="0.45">αβ</text>
<text class="b" x="374.3" y="589.6" font-size="13" textLength="25.3" lengthAdjust="spacingAndGlyphs">CD8</text>
<text class="sym" x="404.3" y="589.6" font-size="14.6" textLength="8.8" lengthAdjust="spacingAndGlyphs" stroke-width="0.45">α</text>
<text class="b" x="413.3" y="589.6" font-size="13">’</text>
<text class="sym" x="416.8" y="589.6" font-size="14.6" textLength="6" lengthAdjust="spacingAndGlyphs" stroke-width="0.45">β</text>
<text class="b" x="423.3" y="589.6" font-size="13">’</text>
<text class="b" x="269.2" y="614.5" font-size="16.2" textLength="71.5" lengthAdjust="spacingAndGlyphs">Effectors</text>
<g stroke="#000" fill="none">
<rect x="99.1" y="631.7" width="36.8" height="13.3" stroke-width="2.4" fill="#fff"/>
<line x1="98" y1="636.6" x2="137" y2="636.6" stroke-width="1.9"/>
<line x1="98" y1="640.6" x2="137" y2="640.6" stroke-width="1.9"/>
<rect x="283.2" y="631.5" width="36.1" height="13.6" stroke-width="2.4" fill="#fff"/>
<line x1="282" y1="645" x2="320.5" y2="645" stroke-width="2.6"/>
<line x1="288.0" y1="631" x2="288.0" y2="642.8" stroke-width="1.9"/>
<line x1="292.5" y1="631" x2="292.5" y2="642.8" stroke-width="1.9"/>
<line x1="297.0" y1="631" x2="297.0" y2="642.8" stroke-width="1.9"/>
<line x1="301.3" y1="631" x2="301.3" y2="642.8" stroke-width="1.9"/>
<line x1="305.7" y1="631" x2="305.7" y2="642.8" stroke-width="1.9"/>
<line x1="310.0" y1="631" x2="310.0" y2="642.8" stroke-width="1.9"/>
<line x1="314.4" y1="631" x2="314.4" y2="642.8" stroke-width="1.9"/>
<rect x="81.6" y="658.1" width="36.1" height="13.3" rx="1" stroke-width="2.5" fill="#fff"/>
</g>
<rect x="243.7" y="657" width="38.4" height="15.5" rx="1" fill="#000"/>
<rect x="392.3" y="656" width="38" height="14.3" rx="1" fill="#9c9c9c" stroke="#1c1c1c" stroke-width="2"/>
<text x="146" y="644.5" font-size="16.2" textLength="97.2" lengthAdjust="spacingAndGlyphs">T2 + MART-1</text>
<text x="328.6" y="644.6" font-size="16.2" textLength="101.6" lengthAdjust="spacingAndGlyphs">T2+Trosinase</text>
<text x="127.8" y="668.8" font-size="16.2" textLength="66.6" lengthAdjust="spacingAndGlyphs">mel 1300</text>
<text x="289.8" y="668.8" font-size="16.2" textLength="57.8" lengthAdjust="spacingAndGlyphs">mel 624</text>
<text x="436.2" y="668.8" font-size="16.2" textLength="58.4" lengthAdjust="spacingAndGlyphs">mel 888</text>
<text class="b" x="24.6" y="712" font-size="18.5" textLength="14.2" lengthAdjust="spacingAndGlyphs">C</text>
<g stroke="#000" stroke-width="3.4" fill="none">
<path d="M102.4,716.6 H463.7 M109.4,716.6 V952 M462,716.6 V952 M102.4,952 H463.7"/>
<line x1="102.4" y1="893.1" x2="109.4" y2="893.1" stroke-width="3"/>
<line x1="102.4" y1="834.3" x2="109.4" y2="834.3" stroke-width="3"/>
<line x1="102.4" y1="775.5" x2="109.4" y2="775.5" stroke-width="3"/>
<line x1="121.6" y1="952" x2="121.6" y2="958.5" stroke-width="3"/>
<line x1="189.6" y1="952" x2="189.6" y2="958.5" stroke-width="3"/>
<line x1="257.7" y1="952" x2="257.7" y2="958.5" stroke-width="3"/>
<line x1="326.2" y1="952" x2="326.2" y2="958.5" stroke-width="3"/>
<line x1="394.3" y1="952" x2="394.3" y2="958.5" stroke-width="3"/>
</g>
<text class="b" x="96.3" y="957.6" font-size="16" text-anchor="end">0</text>
<text class="b" x="96.3" y="898.8" font-size="16" text-anchor="end">500</text>
<text class="b" x="96.3" y="839.9" font-size="16" text-anchor="end">1000</text>
<text class="b" x="96.3" y="781.1" font-size="16" text-anchor="end">1500</text>
<text class="b" x="96.3" y="722.2" font-size="16" text-anchor="end">2000</text>
<text class="b" transform="translate(39.4,920.3) rotate(-90)" font-size="17.1" textLength="164.8" lengthAdjust="spacingAndGlyphs">IL-2 Release (pg/ml)</text>
<g stroke="#000" stroke-width="2.4" fill="none" stroke-linejoin="round">
<polyline points="121.6,740.8 189.6,737.8 257.7,764.5 326.2,880.3 394.3,941.8 462.3,946.8"/>
<polyline points="121.6,800.0 189.6,806.7 257.7,841.2 326.2,926.2 394.3,946.7 462.3,948.2"/>
<polyline points="121.6,833.0 189.6,822.0 257.7,873.0 326.2,935.5 394.3,952.0 462.3,952.0"/>
</g>
<polygon points="121.6,734.0 128.3,746.5 114.9,746.5" fill="#000"/>
<polygon points="189.6,731.0 196.3,743.3 182.9,743.3" fill="#000"/>
<polygon points="257.7,757.8 264.4,770.3 251.0,770.3" fill="#000"/>
<polygon points="326.2,873.5 332.9,885.8 319.5,885.8" fill="#000"/>
<polygon points="394.3,935.0 401.0,947.3 387.6,947.3" fill="#000"/>
<polygon points="462.3,940.0 469.0,952.3 455.6,952.3" fill="#000"/>
<polygon points="114.9,795.5 128.3,795.5 121.6,807.2" fill="#000"/>
<polygon points="182.9,802.2 196.3,802.2 189.6,814.0" fill="#000"/>
<polygon points="251.0,836.7 264.4,836.7 257.7,848.0" fill="#000"/>
<polygon points="319.5,921.7 332.9,921.7 326.2,933.0" fill="#000"/>
<polygon points="387.6,942.2 401.0,942.2 394.3,953.5" fill="#000"/>
<polygon points="455.6,943.7 469.0,943.7 462.3,955.0" fill="#000"/>
<circle cx="121.6" cy="833" r="7.6" fill="#000"/>
<circle cx="189.6" cy="822" r="7.6" fill="#000"/>
<circle cx="257.7" cy="873" r="7.6" fill="#000"/>
<circle cx="326.2" cy="935.5" r="7.6" fill="#000"/>
<circle cx="394.3" cy="952" r="7.6" fill="#000"/>
<circle cx="462.3" cy="952" r="7.6" fill="#000"/>
<text class="b" x="121.89999999999999" y="980.6" font-size="16" text-anchor="middle">10</text>
<text class="b" x="189.9" y="980.6" font-size="16" text-anchor="middle">1</text>
<text class="b" x="258.0" y="980.6" font-size="16" text-anchor="middle">0.1</text>
<text class="b" x="326.5" y="980.6" font-size="16" text-anchor="middle">0.01</text>
<text class="b" x="394.6" y="980.6" font-size="16" text-anchor="middle">0.001</text>
<text class="b" x="462.6" y="980.6" font-size="16" text-anchor="middle">0.0001</text>
<text class="b" x="158.8" y="1005.6" font-size="19" textLength="253" lengthAdjust="spacingAndGlyphs">peptide concentration <tspan class="sym" font-weight="normal">μ</tspan>g/ml</text>
<g stroke="#000" stroke-width="2.2"><line x1="67" y1="1031.3" x2="101.3" y2="1031.3"/><line x1="229.5" y1="1032" x2="263" y2="1032"/><line x1="352.5" y1="1031.8" x2="386.3" y2="1031.8"/></g>
<circle cx="83.8" cy="1031.3" r="7.4" fill="#000"/>
<polygon points="246,1026.3 252.8,1037.7 239.2,1037.7" fill="#000"/>
<polygon points="362.2,1026.7 376.6,1026.7 369.4,1037.8" fill="#000"/>
<text x="113.4" y="1034.9" font-size="16.3" textLength="98.2" lengthAdjust="spacingAndGlyphs">untransduced</text>
<text x="274.3" y="1038.1" font-size="16.2" textLength="30.6" lengthAdjust="spacingAndGlyphs">CD8</text>
<text class="sym" x="310" y="1038.1" font-size="17.6" textLength="21.4" lengthAdjust="spacingAndGlyphs">αβ</text>
<text x="398.6" y="1037.2" font-size="16.2" textLength="30.6" lengthAdjust="spacingAndGlyphs">CD8</text>
<text class="sym" x="436" y="1037.2" font-size="17.6" textLength="10.8" lengthAdjust="spacingAndGlyphs">α</text>
<text x="447.2" y="1037.2" font-size="16.2">’</text>
<text class="sym" x="451.2" y="1037.2" font-size="17.6" textLength="7.6" lengthAdjust="spacingAndGlyphs">β</text>
<text x="459" y="1037.2" font-size="16.2">’</text>
<path d="M0,0 H520 V1067 H0 Z M1.5,1.1 V1065.1 H518.5 V1.1 Z" fill="#000" fill-rule="evenodd"/>
</svg></body></html>
